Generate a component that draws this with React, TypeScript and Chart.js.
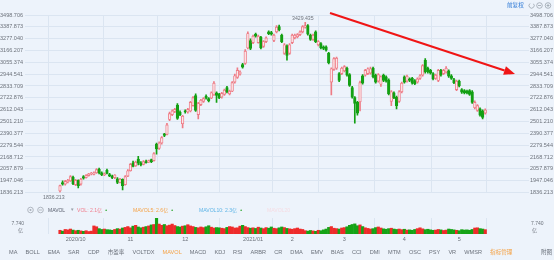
import { useEffect, useRef } from "react";
import { Chart, registerables } from "chart.js";

Chart.register(...registerables);

const openPrices = [
  1850, 1930, 1915, 1935, 1945, 1980, 1910, 1950, 1915, 1985,
  1975, 1995, 2010, 2005, 2020, 2055, 2020, 2000, 2045, 2005,
  1990, 1975, 1965, 1930, 1960, 1910, 1990, 2040, 2115, 2085,
  2150, 2115, 2100, 2125, 2120, 2145, 2135, 2290, 2250, 2300,
  2385, 2380, 2520, 2565, 2595, 2655, 2590, 2480, 2600, 2590,
  2600, 2650, 2745, 2565, 2660, 2690, 2740, 2715, 2720, 2750,
  2770, 2755, 2730, 2755, 2820, 2760, 2785, 2870, 2915, 2945,
  3035, 3045, 3190, 3260, 3240, 3320, 3240, 3290, 3205, 3250,
  3340, 3335, 3260, 3340, 3390, 3310, 3140, 3210, 3140, 3240,
  3285, 3295, 3315, 3340, 3385, 3400, 3310, 3270, 3340, 3220,
  3230, 3200, 3200, 3140, 2870, 2990, 3000, 2950, 2950, 2975,
  3000, 2940, 2820, 2725, 2680, 2685, 2930, 2935, 2950, 2955,
  3000, 2935, 2880, 2850, 2935, 2920, 2890, 2690, 2770, 2730,
  2690, 2780, 2920, 2880, 2900, 2905, 2885, 2870, 2905, 2935,
  3075, 3000, 2980, 2950, 2905, 2885, 2980, 2950, 2965, 2975,
  2930, 2895, 2800, 2880, 2800, 2790, 2785, 2790, 2780, 2630,
  2605, 2620, 2600, 2580,
];

const highPrices = [
  1905, 1945, 1950, 1960, 1995, 1990, 1960, 1955, 1970, 1995,
  2005, 2015, 2025, 2030, 2060, 2065, 2030, 2020, 2055, 2015,
  2000, 2005, 1975, 1970, 1965, 1995, 2050, 2110, 2130, 2130,
  2175, 2125, 2135, 2140, 2140, 2150, 2210, 2300, 2310, 2360,
  2390, 2485, 2590, 2610, 2625, 2670, 2600, 2560, 2610, 2625,
  2690, 2735, 2760, 2680, 2710, 2725, 2750, 2725, 2780, 2875,
  2780, 2765, 2775, 2805, 2830, 2795, 2875, 2945, 3005, 2975,
  3045, 3175, 3340, 3275, 3310, 3330, 3310, 3300, 3260, 3295,
  3350, 3345, 3320, 3400, 3405, 3320, 3230, 3220, 3230, 3320,
  3320, 3325, 3350, 3400, 3429.435, 3410, 3320, 3320, 3350, 3260,
  3240, 3210, 3210, 3150, 3005, 3100, 3105, 2960, 3010, 3025,
  3010, 2950, 2830, 2735, 2690, 2880, 2940, 2990, 3005, 3010,
  3010, 2945, 2950, 2930, 2945, 2930, 2900, 2790, 2780, 2740,
  2790, 2870, 2930, 2935, 2910, 2915, 2895, 2910, 2940, 3035,
  3090, 3010, 2990, 2960, 2945, 2990, 2990, 2990, 3015, 2985,
  2940, 2905, 2890, 2890, 2810, 2800, 2795, 2800, 2790, 2695,
  2660, 2630, 2610, 2620,
];

const lowPrices = [
  1836.213, 1905, 1905, 1925, 1940, 1910, 1900, 1880, 1905, 1960,
  1970, 1990, 2000, 2000, 2015, 2010, 1995, 1995, 2010, 1985,
  1965, 1965, 1920, 1925, 1860, 1905, 1985, 2035, 2075, 2080,
  2095, 2085, 2095, 2110, 2115, 2115, 2130, 2195, 2240, 2290,
  2360, 2375, 2510, 2555, 2585, 2520, 2555, 2440, 2580, 2580,
  2590, 2645, 2595, 2525, 2650, 2680, 2710, 2685, 2715, 2745,
  2680, 2715, 2720, 2745, 2770, 2750, 2780, 2860, 2905, 2935,
  3000, 3035, 3180, 3175, 3230, 3290, 3235, 3180, 3195, 3240,
  3315, 3310, 3250, 3330, 3350, 3240, 3130, 3075, 3130, 3230,
  3275, 3285, 3305, 3330, 3375, 3310, 3260, 3260, 3240, 3210,
  3180, 3175, 3160, 3040, 2750, 2980, 2990, 2875, 2940, 2965,
  2925, 2830, 2720, 2485, 2560, 2600, 2850, 2925, 2940, 2945,
  2910, 2860, 2870, 2830, 2875, 2870, 2750, 2650, 2715, 2620,
  2680, 2770, 2860, 2870, 2875, 2850, 2845, 2860, 2895, 2925,
  2955, 2955, 2945, 2890, 2895, 2875, 2925, 2940, 2955, 2915,
  2895, 2855, 2790, 2825, 2765, 2760, 2760, 2745, 2670, 2620,
  2595, 2550, 2525, 2570,
];

const closePrices = [
  1900, 1915, 1940, 1950, 1985, 1920, 1950, 1900, 1960, 1970,
  1995, 2010, 2015, 2020, 2050, 2020, 2000, 2010, 2015, 1990,
  1975, 2000, 1930, 1960, 1900, 1985, 2040, 2100, 2080, 2120,
  2110, 2095, 2125, 2115, 2135, 2125, 2200, 2245, 2300, 2350,
  2370, 2470, 2575, 2600, 2615, 2530, 2565, 2550, 2590, 2615,
  2680, 2725, 2605, 2670, 2700, 2715, 2720, 2695, 2770, 2860,
  2745, 2725, 2765, 2795, 2780, 2785, 2865, 2930, 2980, 2965,
  3010, 3160, 3325, 3185, 3300, 3300, 3300, 3190, 3250, 3285,
  3325, 3320, 3310, 3385, 3360, 3250, 3220, 3120, 3220, 3310,
  3310, 3315, 3340, 3390, 3400, 3320, 3270, 3310, 3250, 3250,
  3190, 3185, 3170, 3050, 2995, 3090, 3095, 2885, 3000, 3015,
  2935, 2840, 2730, 2670, 2580, 2865, 2860, 2980, 2995, 2995,
  2920, 2870, 2940, 2920, 2885, 2880, 2760, 2780, 2725, 2650,
  2780, 2860, 2870, 2925, 2885, 2860, 2855, 2900, 2930, 3025,
  2965, 2965, 2955, 2900, 2935, 2980, 2935, 2980, 3000, 2925,
  2905, 2865, 2880, 2835, 2775, 2770, 2770, 2755, 2680, 2680,
  2650, 2560, 2540, 2610,
];

// volume in 亿
const volumes = [
  1.8, 1.4, 2.2, 2.0, 2.4, 1.9, 1.6, 1.8, 1.5, 1.3,
  1.6, 1.2, 1.4, 3.9, 3.5, 2.6, 2.2, 2.4, 2.1, 2.0,
  1.8, 2.2, 2.6, 2.4, 2.9, 3.2, 3.6, 3.0, 3.8, 4.2,
  3.4, 3.0, 3.3, 3.6, 3.9, 4.4, 4.6, 7.74, 4.8, 4.2,
  4.6, 4.0, 4.3, 4.8, 4.1, 3.6, 3.4, 3.8, 4.0, 4.5,
  3.9, 3.6, 3.2, 3.0, 3.4, 3.1, 3.5, 4.0, 3.3, 2.9,
  3.1, 3.0, 2.8, 2.6, 3.2, 3.6, 3.4, 2.9, 3.0, 3.8,
  4.2, 3.6, 3.1, 2.8, 3.0, 2.7, 3.3, 2.9, 2.6, 3.1,
  2.8, 3.4, 2.8, 2.6, 3.0, 3.4, 3.1, 2.7, 2.5, 2.3,
  2.6, 2.9, 2.4, 2.2, 1.6, 1.4, 1.7, 1.5, 1.3, 1.8,
  1.6, 2.0, 2.4, 3.2, 3.6, 2.8, 2.6, 2.4, 2.9, 3.1,
  3.5, 4.2, 4.6, 4.9, 4.0, 4.4, 3.6, 3.0, 2.7, 2.4,
  2.6, 3.1, 3.4, 2.9, 2.5, 2.3, 2.6, 2.8, 2.4, 2.2,
  2.4, 2.1, 2.3, 1.9, 2.0, 1.8, 2.2, 2.6, 3.0, 2.5,
  2.1, 2.3, 2.0, 1.8, 1.9, 2.2, 2.0, 1.7, 1.9, 2.4,
  2.2, 2.0, 1.8, 1.6, 2.1, 1.9, 2.0, 1.8, 2.2, 2.9,
  3.0, 2.6, 2.4, 2.1,
];

const priceTicks = [
  3498.706, 3387.873, 3277.04, 3166.207, 3055.374, 2944.541, 2833.709, 2722.876,
  2612.043, 2501.21, 2390.377, 2279.544, 2168.712, 2057.879, 1947.046, 1836.213,
];

const monthTickIndex = [6, 27, 48, 74, 89, 109, 132, 153];
const monthTickLabels = ["2020/10", "11", "12", "2021/01", "2", "3", "4", "5"];

const volumeMax = 7.74;
const legendItems = [
  { text: "VOL: 2.1亿", color: "#f07c8c", left: 77 },
  { text: "MAVOL5: 2.6亿", color: "#f5a245", left: 133 },
  { text: "MAVOL10: 2.3亿", color: "#5db4e6", left: 199 },
];

const indicatorNames = [
  "MA", "BOLL", "EMA", "SAR", "CDP", "市盈率", "VOLTDX", "MAVOL", "MACD", "KDJ", "RSI", "ARBR",
  "CR", "DMA", "EMV", "BIAS", "CCI", "DMI", "MTM", "OSC", "PSY", "VR", "WMSR", "指标管理",
];
const highlighted = ["MAVOL", "指标管理"];

const FONT = "'Liberation Sans', 'Noto Sans CJK SC', sans-serif";
const BG = "#edf3fb";
const GRID = "#dbe5f1";
const AXIS_TEXT = "#6c727b";
const UP_BORDER = "#ee7b85";
const UP_FILL = "#fbe6e9";
const DOWN = "#13a013";
const VOL_UP = "#ee2b2b";
const VOL_DOWN = "#16a316";

const W = 554;
const PRICE_H = 206;
const VOL_TOP = 214;
const VOL_H = 32;
const AXIS_W = 25;
const FIRST_X = 29;
const LAST_X = 515;

function Txt(props: { x: number; y: number; size: number; color: string; children: any; align?: "left" | "right" }) {
  const { x, y, size, color, children, align } = props;
  const style: any = {
    position: "absolute",
    top: y - size * 0.6,
    fontSize: size,
    lineHeight: `${size * 1.2}px`,
    color,
    fontFamily: FONT,
    whiteSpace: "nowrap",
  };
  if (align === "right") style.right = W - x;
  else style.left = x;
  return <span style={style}>{children}</span>;
}

export default function App() {
  const priceRef = useRef<HTMLCanvasElement>(null);
  const volRef = useRef<HTMLCanvasElement>(null);

  useEffect(() => {
    Chart.defaults.font.family = FONT;
    const n = closePrices.length;
    const step = (LAST_X - FIRST_X) / (n - 1);
    const xMin = -(FIRST_X - AXIS_W) / step;
    const xMax = n - 1 + (W - AXIS_W - LAST_X) / step;

    const isUp = closePrices.map((c, i) => c >= openPrices[i]);
    const bodies = closePrices.map((c, i) => ({ x: i, y: [openPrices[i], c] }));
    const wicks = closePrices.map((_, i) => ({ x: i, y: [lowPrices[i], highPrices[i]] }));

    const monthTicks = (s: any) => {
      s.ticks = monthTickIndex.map((v) => ({ value: v }));
    };
    const priceTickBuild = (s: any) => {
      s.ticks = priceTicks.map((v) => ({ value: v }));
    };
    const yMin = priceTicks[priceTicks.length - 1];
    const yMax = priceTicks[0];
    const tickFont = { size: 5.5, family: FONT };

    const price = new Chart(priceRef.current!, {
      type: "bar",
      data: {
        datasets: [
          {
            label: "body",
            data: bodies as any,
            backgroundColor: isUp.map((u) => (u ? UP_FILL : DOWN)),
            borderColor: isUp.map((u) => (u ? UP_BORDER : DOWN)),
            borderWidth: 0.9,
            borderSkipped: false,
            barThickness: 2.6,
            minBarLength: 0.9,
            grouped: false,
            yAxisID: "yL",
            order: 1,
          },
          {
            label: "wick",
            data: wicks as any,
            backgroundColor: isUp.map((u) => (u ? UP_BORDER : DOWN)),
            barThickness: 1,
            grouped: false,
            yAxisID: "yL",
            order: 2,
          },
        ],
      },
      options: {
        animation: false,
        responsive: false,
        maintainAspectRatio: false,
        layout: { padding: { top: 15, bottom: PRICE_H - 192.5, left: 0, right: 0 } },
        plugins: { legend: { display: false }, tooltip: { enabled: false } },
        scales: {
          x: {
            type: "linear",
            min: xMin,
            max: xMax,
            afterBuildTicks: monthTicks,
            ticks: { display: false },
            grid: { color: GRID, drawTicks: false },
            border: { display: false },
            afterFit: (s: any) => {
              s.height = 0;
            },
          },
          yL: {
            type: "linear",
            position: "left",
            min: yMin,
            max: yMax,
            afterBuildTicks: priceTickBuild,
            ticks: { font: tickFont, color: AXIS_TEXT, padding: 2, callback: (v: any) => Number(v).toFixed(3) },
            grid: { color: GRID, drawTicks: false },
            border: { display: false },
            afterFit: (s: any) => {
              s.width = AXIS_W;
            },
          },
          yR: {
            type: "linear",
            position: "right",
            min: yMin,
            max: yMax,
            afterBuildTicks: priceTickBuild,
            ticks: { font: tickFont, color: AXIS_TEXT, padding: 1, callback: (v: any) => Number(v).toFixed(3) },
            grid: { display: false, drawTicks: false },
            border: { display: false },
            afterFit: (s: any) => {
              s.width = AXIS_W;
            },
          },
        },
      },
    });

    const vol = new Chart(volRef.current!, {
      type: "bar",
      data: {
        datasets: [
          {
            label: "VOL",
            data: volumes.map((v, i) => ({ x: i, y: v })) as any,
            backgroundColor: isUp.map((u) => (u ? VOL_UP : VOL_DOWN)),
            barThickness: 2.5,
            grouped: false,
          },
        ],
      },
      options: {
        animation: false,
        responsive: false,
        maintainAspectRatio: false,
        layout: { padding: { top: 4, bottom: 0, left: 0, right: AXIS_W } },
        plugins: { legend: { display: false }, tooltip: { enabled: false } },
        scales: {
          x: {
            type: "linear",
            min: xMin,
            max: xMax,
            afterBuildTicks: monthTicks,
            ticks: {
              font: tickFont,
              color: AXIS_TEXT,
              padding: 2,
              autoSkip: false,
              maxRotation: 0,
              callback: (v: any) => monthTickLabels[monthTickIndex.indexOf(Number(v))] ?? "",
            },
            grid: { color: GRID, drawTicks: false },
            border: { display: false },
            afterFit: (s: any) => {
              s.height = 12;
            },
          },
          y: {
            type: "linear",
            min: 0,
            max: volumeMax,
            ticks: { display: false },
            grid: { display: false, drawTicks: false },
            border: { display: false },
            afterFit: (s: any) => {
              s.width = AXIS_W;
            },
          },
        },
      },
    });

    return () => {
      price.destroy();
      vol.destroy();
    };
  }, []);

  // arrow annotation geometry
  const ax1 = 330, ay1 = 13, ax2 = 515, ay2 = 74;
  const dx = ax2 - ax1, dy = ay2 - ay1;
  const len = Math.hypot(dx, dy);
  const ux = dx / len, uy = dy / len;
  const hl = 11, hw = 4.5;
  const bx = ax2 - hl * ux, by = ay2 - hl * uy;
  const head = `${ax2},${ay2} ${bx - hw * uy},${by + hw * ux} ${bx + hw * uy},${by - hw * ux}`;

  const maxHigh = Math.max(...highPrices);
  const minLow = Math.min(...lowPrices);

  return (
    <div style={{ position: "fixed", left: 0, top: 0, width: W, height: 260, background: BG, overflow: "hidden", fontFamily: FONT }}>
      <canvas ref={priceRef} width={W} height={PRICE_H} style={{ position: "absolute", left: 0, top: 0, width: W, height: PRICE_H }} />
      <canvas ref={volRef} width={W} height={VOL_H} style={{ position: "absolute", left: 0, top: VOL_TOP, width: W, height: VOL_H }} />

      <svg width={W} height={260} style={{ position: "absolute", left: 0, top: 0, pointerEvents: "none" }}>
        <line x1={ax1} y1={ay1} x2={bx} y2={by} stroke="#f01515" strokeWidth={2} />
        <polygon points={head} fill="#f01515" />
        <circle cx={30.5} cy={210} r={2.8} fill="none" stroke="#a9b0ba" strokeWidth={0.9} />
        <circle cx={30.5} cy={210} r={1} fill="#a9b0ba" />
        <circle cx={40.5} cy={210} r={2.8} fill="none" stroke="#a9b0ba" strokeWidth={0.9} />
        <line x1={39} y1={210} x2={42} y2={210} stroke="#a9b0ba" strokeWidth={0.8} />
        <path d="M 530 3.5 A 2.6 2.6 0 1 0 533.5 3.8" fill="none" stroke="#9aa3ad" strokeWidth={0.8} />
        <circle cx={539.5} cy={5.5} r={2.8} fill="none" stroke="#9aa3ad" strokeWidth={0.8} />
        <line x1={538} y1={5.5} x2={541} y2={5.5} stroke="#9aa3ad" strokeWidth={0.8} />
        <circle cx={548} cy={5.5} r={2.8} fill="none" stroke="#9aa3ad" strokeWidth={0.8} />
        <line x1={546.5} y1={5.5} x2={549.5} y2={5.5} stroke="#9aa3ad" strokeWidth={0.8} />
        <line x1={548} y1={4} x2={548} y2={7} stroke="#9aa3ad" strokeWidth={0.8} />
      </svg>

      <Txt x={507} y={5.5} size={5.6} color="#2f7ad6">前复权</Txt>
      <Txt x={292} y={18} size={5.2} color="#6d737c">{maxHigh.toFixed(3)}</Txt>
      <Txt x={43} y={197.5} size={5.2} color="#6d737c">{minLow.toFixed(3)}</Txt>

      <Txt x={48} y={210} size={5} color="#5b6170">MAVOL</Txt>
      <Txt x={70} y={210} size={4.5} color="#9aa0a8">▼</Txt>
      {legendItems.map((it) => (
        <span key={it.text}>
          <Txt x={it.left} y={210} size={5.1} color={it.color}>
            {it.text}
            <span style={{ color: "#19a019", marginLeft: 3 }}>•</span>
          </Txt>
        </span>
      ))}
      <Txt x={267} y={210} size={5.1} color="#f5dce3">MAVOL20</Txt>

      <Txt x={24} y={222.5} size={5} color={AXIS_TEXT} align="right">7.740</Txt>
      <Txt x={23} y={229.5} size={5} color={AXIS_TEXT} align="right">亿</Txt>
      <Txt x={531} y={222.5} size={5} color={AXIS_TEXT}>7.740</Txt>
      <Txt x={532} y={229.5} size={5} color={AXIS_TEXT}>亿</Txt>

      <div style={{ position: "absolute", left: 9, top: 249, display: "flex", gap: 8.1, fontSize: 5.6, lineHeight: "7px", fontFamily: FONT, whiteSpace: "nowrap" }}>
        {indicatorNames.map((name) => (
          <span key={name} style={{ color: highlighted.includes(name) ? "#f5a245" : "#6b717b" }}>{name}</span>
        ))}
      </div>
      <Txt x={541} y={252.5} size={5.6} color="#6b717b">附图</Txt>
    </div>
  );
}
